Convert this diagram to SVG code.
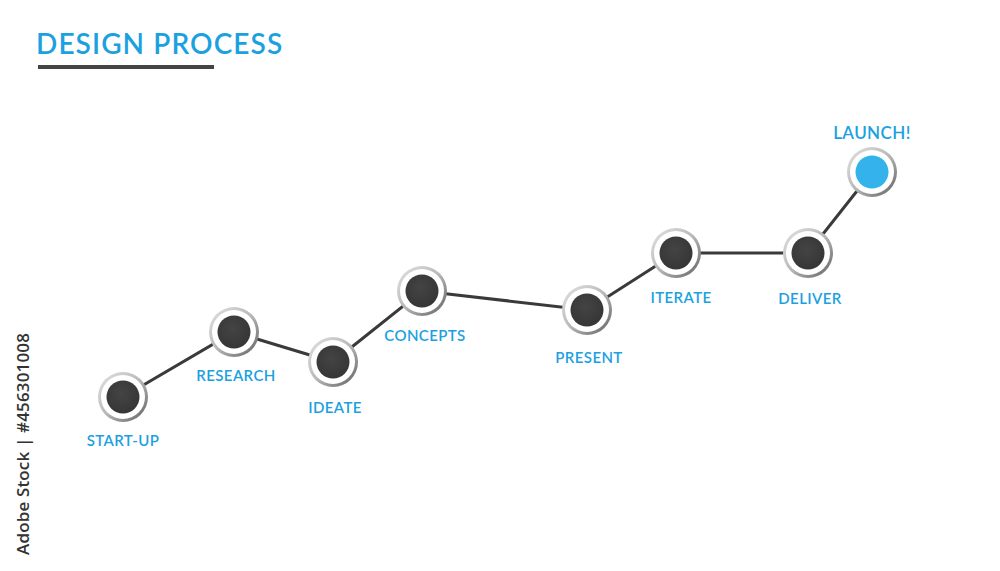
<svg xmlns="http://www.w3.org/2000/svg" width="1000" height="571" viewBox="0 0 1000 571">
<defs>
<linearGradient id="ring" x1="0" y1="0" x2="1" y2="1">
<stop offset="0" stop-color="#e4e4e4"/>
<stop offset="0.5" stop-color="#b8b8b8"/>
<stop offset="1" stop-color="#5e5e5e"/>
</linearGradient>
<radialGradient id="core" cx="0.45" cy="0.4" r="0.6">
<stop offset="0" stop-color="#444"/>
<stop offset="1" stop-color="#363636"/>
</radialGradient>
<g id="node">
<circle r="25" fill="url(#ring)"/>
<circle r="22" fill="#fff"/>
<circle r="16.5" fill="url(#core)"/>
</g>
</defs>
<style>
.lbl{font-family:Lato,"Open Sans",sans-serif;font-size:15px;font-weight:600;fill:#1ba1df;text-anchor:middle;letter-spacing:0.4px}
.ln{stroke:#3a3a3a;stroke-width:3;fill:none;stroke-linecap:round}
</style>
<rect width="1000" height="571" fill="#fff"/>
<g id="title">
<text x="36" y="54" font-family="Lato,'Open Sans',sans-serif" font-size="28" font-weight="600" fill="#1ba1df" letter-spacing="0.8" textLength="247">DESIGN PROCESS</text>
<rect x="38" y="65" width="176" height="4" fill="#444"/>
</g>
<g id="connectors">
<polyline class="ln" points="123,397 234,332 333,362 422,291 587,310 676,253 808,253 872,172"/>
</g>
<g id="n1"><use href="#node" x="123" y="397"/><text class="lbl" x="123" y="446">START-UP</text></g>
<g id="n2"><use href="#node" x="234" y="332"/><text class="lbl" x="236" y="381">RESEARCH</text></g>
<g id="n3"><use href="#node" x="333" y="362"/><text class="lbl" x="335" y="413">IDEATE</text></g>
<g id="n4"><use href="#node" x="422" y="291"/><text class="lbl" x="425" y="341">CONCEPTS</text></g>
<g id="n5"><use href="#node" x="587" y="310"/><text class="lbl" x="589" y="363">PRESENT</text></g>
<g id="n6"><use href="#node" x="676" y="253"/><text class="lbl" x="681" y="303">ITERATE</text></g>
<g id="n7"><use href="#node" x="808" y="253"/><text class="lbl" x="810" y="304">DELIVER</text></g>
<g id="n8">
<circle cx="872" cy="172" r="25" fill="url(#ring)"/>
<circle cx="872" cy="172" r="22" fill="#fff"/>
<circle cx="872" cy="172" r="16.5" fill="#33b2ec"/>
<text class="lbl" x="872" y="139" style="font-size:17px">LAUNCH!</text>
</g>
<text transform="translate(29,555) rotate(-90)" font-family="'Open Sans',sans-serif" font-weight="600" font-size="17" fill="#333" textLength="222">Adobe Stock | #456301008</text>
</svg>
